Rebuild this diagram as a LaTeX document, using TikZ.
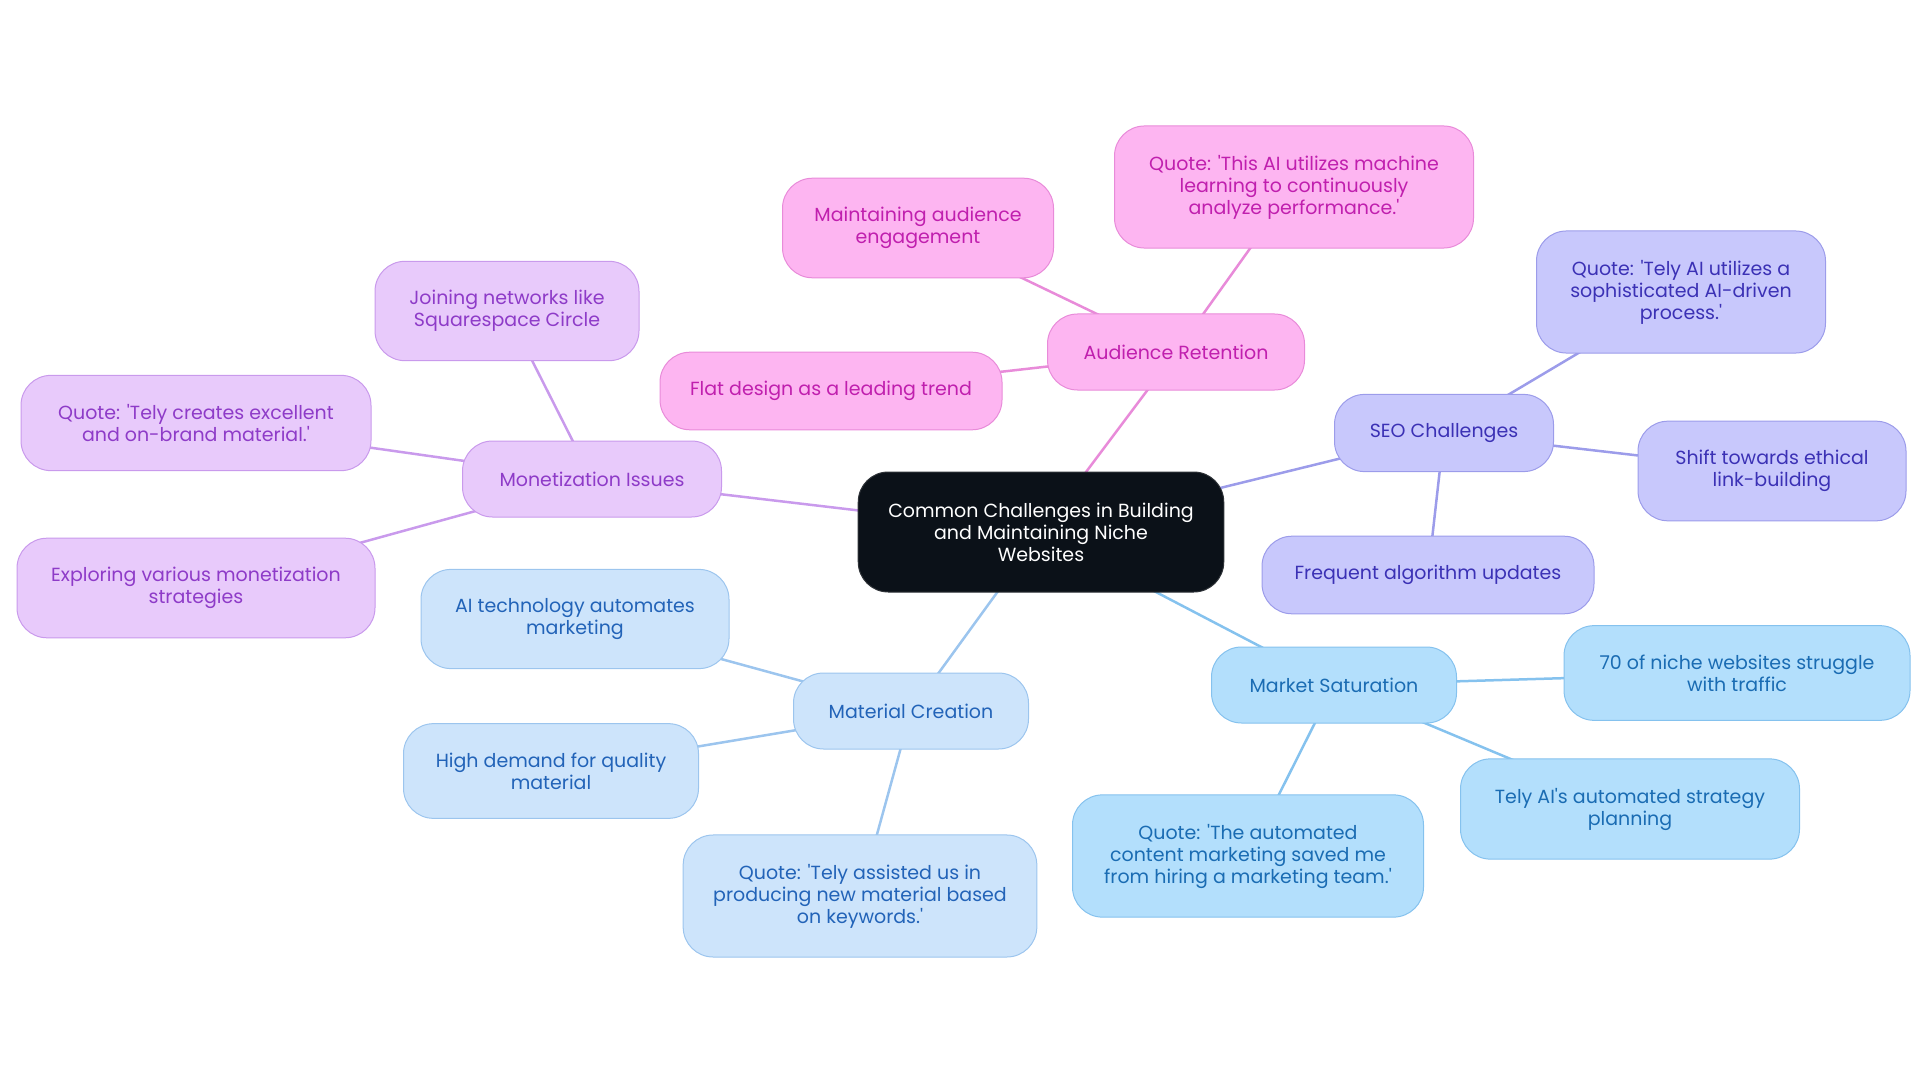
\documentclass[tikz,border=0pt]{standalone}
\usepackage{fontspec}
\setmainfont{Poppins}[Ligatures=TeXOff]
\usetikzlibrary{backgrounds}

\definecolor{hubfill}{HTML}{0B1118}
\definecolor{pinkfill}{HTML}{FDB5F1}
\definecolor{pinkline}{HTML}{E88BD9}
\definecolor{pinktext}{HTML}{C01FAE}
\definecolor{lavfill}{HTML}{C8C8FC}
\definecolor{lavline}{HTML}{9C9CEA}
\definecolor{lavtext}{HTML}{3B31B5}
\definecolor{skyfill}{HTML}{B3DFFC}
\definecolor{skyline}{HTML}{85C2EE}
\definecolor{skytext}{HTML}{1A6CB3}
\definecolor{icefill}{HTML}{CDE4FB}
\definecolor{iceline}{HTML}{9CC5EE}
\definecolor{icetext}{HTML}{2263B8}
\definecolor{lilfill}{HTML}{E8CAFB}
\definecolor{lilline}{HTML}{C99AEC}
\definecolor{liltext}{HTML}{8E3BC8}

\begin{document}
\begin{tikzpicture}[
            x = 1pt, y = -1pt,
            box/.style = {draw, line width = 1pt, rounded corners = 30pt, align = center,
                inner xsep = 30pt, inner ysep = 29pt, minimum height = 76pt,
                font = \fontsize{19}{22}\selectfont},
            hub/.style = {box, fill = hubfill, draw = hubfill!70!gray, text = white, minimum width = 362pt, minimum height = 120pt},
            pink/.style = {box, fill = pinkfill, draw = pinkline, text = pinktext},
            lav/.style = {box, fill = lavfill, draw = lavline, text = lavtext},
            sky/.style = {box, fill = skyfill, draw = skyline, text = skytext},
            ice/.style = {box, fill = icefill, draw = iceline, text = icetext},
            lil/.style = {box, fill = lilfill, draw = lilline, text = liltext},
            arr/.style = {draw, line width = 2.5pt},
        ]
        \useasboundingbox (0,0) rectangle (1920,1083);

        \node (HUB) [hub] at (1041, 532) {Common Challenges in Building\\and Maintaining Niche\\Websites};

        \node (AR) [pink, minimum width = 257pt] at (1176, 352) {Audience Retention};
        \node (MAE) [pink, minimum width = 271pt] at (918, 228) {Maintaining audience\\engagement};
        \node (QAR) [pink, minimum width = 359pt] at (1294, 187) {Quote: 'This AI utilizes machine\\learning to continuously\\analyze performance.'};
        \node (FD) [pink, minimum width = 342pt] at (831, 391) {Flat design as a leading trend};

        \node (SEO) [lav, minimum width = 219pt] at (1444, 433) {SEO Challenges};
        \node (QSEO) [lav, minimum width = 289pt] at (1681, 292) {Quote: 'Tely AI utilizes a\\sophisticated AI-driven\\process.'};
        \node (ETH) [lav, minimum width = 268pt] at (1772, 471) {Shift towards ethical\\link-building};
        \node (ALG) [lav, minimum width = 332pt] at (1428, 575) {Frequent algorithm updates};

        \node (MS) [sky, minimum width = 245pt] at (1334, 685) {Market Saturation};
        \node (NW) [sky, minimum width = 346pt] at (1737, 673) {70 of niche websites struggle\\with traffic};
        \node (TSP) [sky, minimum width = 339pt] at (1630, 809) {Tely AI's automated strategy\\planning};
        \node (QMS) [sky, minimum width = 351pt] at (1248, 856) {Quote: 'The automated\\content marketing saved me\\from hiring a marketing team.'};

        \node (MC) [ice, minimum width = 235pt] at (911, 711) {Material Creation};
        \node (AIT) [ice, minimum width = 308pt] at (575, 619) {AI technology automates\\marketing};
        \node (HD) [ice, minimum width = 295pt] at (551, 771) {High demand for quality\\material};
        \node (QMC) [ice, minimum width = 353pt] at (860, 896) {Quote: 'Tely assisted us in\\producing new material based\\on keywords.'};

        \node (MI) [lil, minimum width = 259pt] at (592, 479) {Monetization Issues};
        \node (JN) [lil, minimum width = 264pt] at (507, 311) {Joining networks like\\Squarespace Circle};
        \node (QMI) [lil, minimum width = 350pt] at (196, 423) {Quote: 'Tely creates excellent\\and on-brand material.'};
        \node (EXP) [lil, minimum width = 358pt] at (196, 588) {Exploring various monetization\\strategies};

        \begin{scope}[on background layer]
        \path[arr, pinkline] (HUB.center) -- (AR.center);
        \path[arr, pinkline] (AR.center) -- (MAE.center);
        \path[arr, pinkline] (AR.center) -- (QAR.center);
        \path[arr, pinkline] (AR.center) -- (FD.center);

        \path[arr, lavline] (HUB.center) -- (SEO.center);
        \path[arr, lavline] (SEO.center) -- (QSEO.center);
        \path[arr, lavline] (SEO.center) -- (ETH.center);
        \path[arr, lavline] (SEO.center) -- (ALG.center);

        \path[arr, skyline] (HUB.center) -- (MS.center);
        \path[arr, skyline] (MS.center) -- (NW.center);
        \path[arr, skyline] (MS.center) -- (TSP.center);
        \path[arr, skyline] (MS.center) -- (QMS.center);

        \path[arr, iceline] (HUB.center) -- (MC.center);
        \path[arr, iceline] (MC.center) -- (AIT.center);
        \path[arr, iceline] (MC.center) -- (HD.center);
        \path[arr, iceline] (MC.center) -- (QMC.center);

        \path[arr, lilline] (HUB.center) -- (MI.center);
        \path[arr, lilline] (MI.center) -- (JN.center);
        \path[arr, lilline] (MI.center) -- (QMI.center);
        \path[arr, lilline] (MI.center) -- (EXP.center);
        \end{scope}
    \end{tikzpicture}
\end{document}
